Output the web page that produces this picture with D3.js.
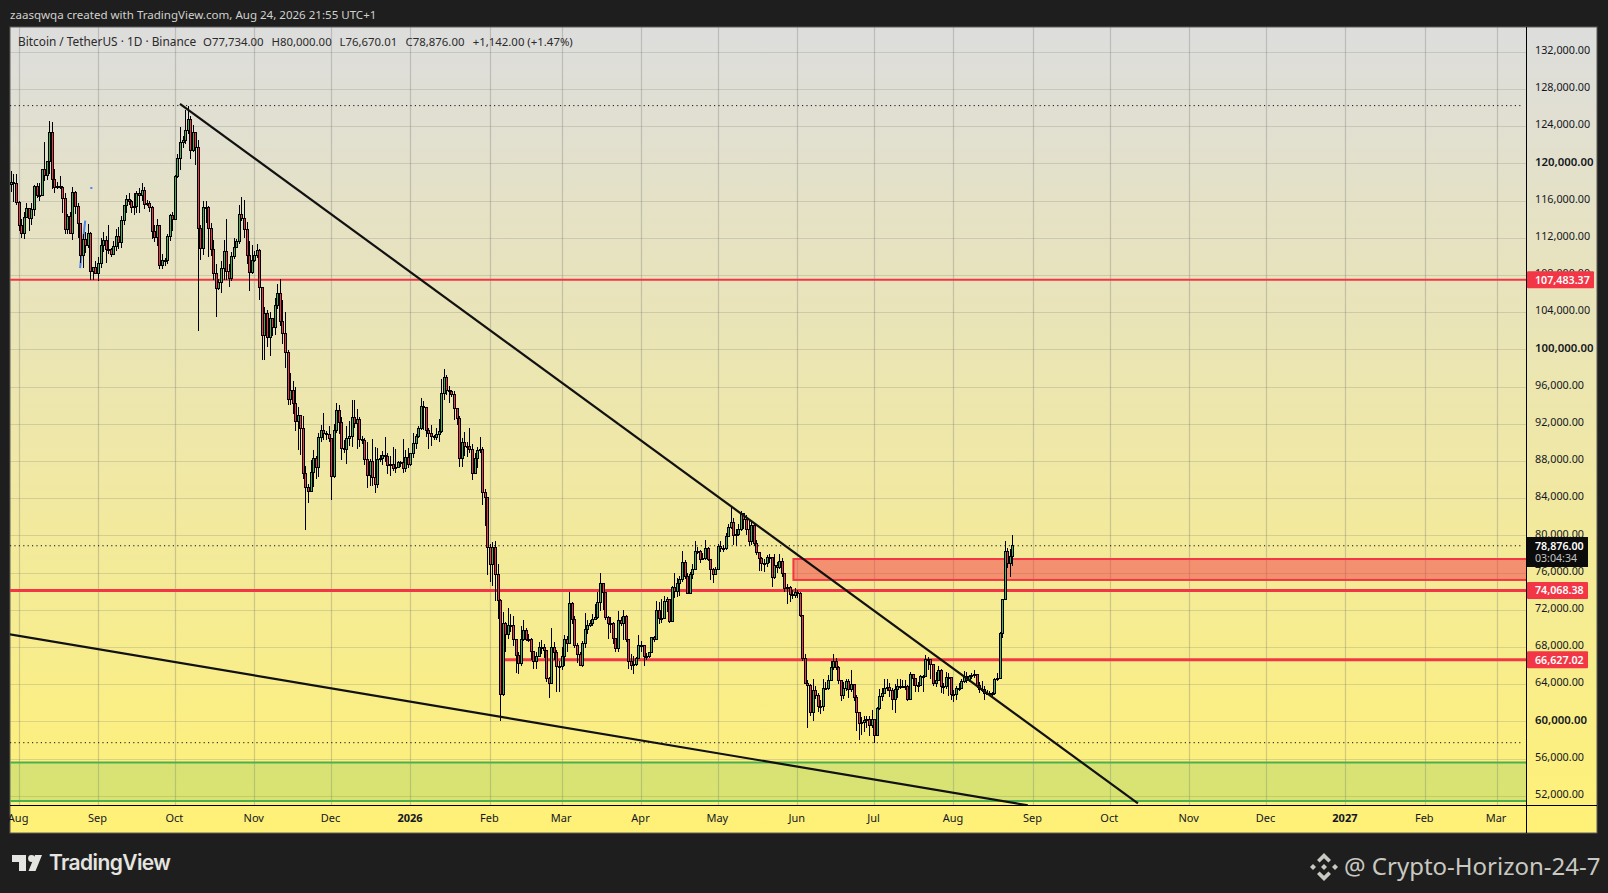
<!DOCTYPE html>
<html>
<head>
<meta charset="utf-8">
<title>BTCUSDT</title>
<script src="https://cdn.jsdelivr.net/npm/d3@7"></script>
<style>
  html, body { margin: 0; padding: 0; background: #1e1e1e; }
  svg { display: block; }
  text { font-family: "Noto Sans", sans-serif; }
</style>
</head>
<body>
<svg id="chart" width="1608" height="893"></svg>
<script>
// Daily candles, in thousands of USDT, first one is 29 Jul 2025
const firstDay = "2025-07-29";
const closes = [
  117.9,117.8,115.8,
  113.3,112.5,114.2,115.1,114.1,115,117.5,116.5,116.5,119.3,118.7,120.2,123.3,118.3,117.4,117.5,117.4,116.2,112.9,114.3,112.5,116.9,115.4,113.5,110.1,111.8,111.2,112.5,108.4,108.8,108.2,
  109.2,111.2,111.7,110.7,110.7,110.2,111.1,112.1,111.5,113.9,115.5,116.1,115.9,115.3,115.4,116.8,116.5,117.1,115.6,115.7,115.3,112.7,112,113.3,109,109.6,109.6,112.1,114.4,114,
  118.6,120.5,122.2,122.4,123.5,124.7,121.4,123.3,121.7,113,110.8,115.2,115.2,113,110.7,108.2,106.5,107.2,108.7,110.5,108.4,107.6,110,111,111.6,114.5,114.1,112.9,110.1,108.3,109.6,
  110.1,110.6,106.6,101.5,103.9,101.3,103.3,102.3,104.7,106,103,101.7,99.7,94.6,95.6,94.2,92.2,92.9,91.5,86.6,85.1,84.7,86.8,88.3,87.3,90.5,91.3,90.9,90.8,90.4,
  86.3,91.3,93.4,92.1,89.3,89.2,90.4,90.6,92.7,92,92.5,90.3,90.2,88.2,86.4,87.9,86.2,85.5,88.1,88.3,88.6,88.5,87.5,87.6,87.2,87.3,87.8,87.8,87.2,88.4,87.6,
  88.8,89.9,90.6,91.5,93.9,93.7,91.3,91,90.6,90.5,90.8,91.2,95.3,97,95.6,95.5,95.1,93.6,92.6,88.3,90,89.5,89.5,89.2,86.6,88.3,89.1,89.2,84.6,84.1,78.7,
  76.9,78.7,75.8,73,62.9,70.54,69.28,70.25,70.3,68.8,67.1,66.2,68.8,69.8,68.8,68.8,67.5,66.4,67,67.9,67.9,67.6,64.6,64.1,67.9,67.4,65.9,65.9,
  66.95,68.8,68.4,72.7,70.9,68.1,67.2,65.95,68.4,69.9,70.25,70.5,71,71.2,72.75,74.8,73.85,71.2,70.55,70.55,68.95,67.85,70.85,70.55,71.3,68.8,66.4,65.95,66.06,66.8,68.2,
  68.1,67,67,67.4,69,68.8,71.9,71.1,71.1,72.9,73.05,70.7,74.4,74,74.8,75.2,77.1,75.55,73.75,75.75,76.35,78.25,78.3,77.4,77.5,78.6,77.35,76.35,75.8,76.35,
  78.8,78.6,78.6,79.85,80.86,81.36,80,80.1,80.65,82.3,81.7,80.6,79.3,81.1,79.1,78.1,77.5,77,77,77.6,77.6,75.5,76.7,76.5,77.2,75.9,74.3,74.4,73.6,73.5,73.8,
  73.7,71.4,66.8,64.1,63.9,61,63.3,62.8,61.6,61.6,63.5,63.5,64.4,65.8,66.4,65.8,64.4,62.8,63.5,64.3,63.4,64,62.6,61,59.8,59.9,60.1,60.2,59.6,60.2,
  58.5,61.4,62.65,63,63.55,63.66,63.3,62.3,63.37,63.73,63.73,63.73,63.73,62.3,64.98,64.62,63.8,63.9,64.8,64.8,66.6,66.6,66.06,64.09,64.34,65.45,63.73,63.73,64.73,64.73,62.83,
  62.83,63.55,63.55,64.27,64.8,64.34,64.8,64.88,64.98,63.9,63.37,63.37,63,63,63,62.94,64.52,64.62,69.4,73.05,78.25,77,77.734,78.876
];
const highs = [
  119.2,118.8,118.9,
  116,114,114.8,115.7,115.2,115.7,117.7,117.9,117.9,119.3,122.3,120.3,124.5,124.4,119.4,118,118.6,117.6,116.8,114.6,114.8,117.4,117,115.7,113.6,112.4,112.6,113.5,112.6,108.9,109.5,
  109.9,112,112.6,112.2,113.4,110.9,111.6,112.9,113.2,114.3,115.5,116.6,116.8,116.1,116.8,117,117.3,117.9,117.5,116.1,116,115.4,113.4,114,113.4,110.3,109.8,112.4,114.5,114.8,
  118.7,121,123.9,122.9,125.7,126.2,125.1,124.1,123.2,122.5,113.4,116,115.9,115.4,113.6,111.8,109.2,107.6,109.5,111.7,114,109.2,110.5,112,111.9,115.5,116.4,116.1,113.7,111.6,111.2,
  110.6,111.3,110.8,106.6,104.5,104.2,104,103.4,105.5,107,107.6,105.3,104,99.9,97.4,96.6,96,93.8,92.9,92.8,87.5,85.5,88.1,89.2,88.5,91,91.9,93.1,91.2,91.8,
  90.4,92,94.2,94,92.7,90.3,91.7,92.3,94.6,94.5,93.6,92.7,90.7,90.5,90,88.2,90.4,89.5,89.4,88.6,89.1,90.6,88.9,88.5,89.5,89.3,88,88,90.4,89.2,89.4,
  88.9,91,90.9,91.8,94.8,94.4,93.7,91.5,91.9,90.8,91.5,92.5,96.8,97.9,97.2,96.1,95.6,95.5,93.4,92.8,90.5,91.1,90,91.5,89.8,88.9,89.5,90.6,89.5,85,84.1,
  79.1,79.3,79.4,76.9,73.1,71.8,70.7,72.2,71.5,71.3,68.9,67.5,70.3,70.9,70,69.4,69,67.6,67.5,68.5,68.7,68.3,67.6,64.8,70,68.5,67.7,66.5,
  68,69.3,69.2,73.9,72.8,71.3,68.4,67.4,68.6,71.6,70.9,70.9,71.5,72.6,73.9,76,74.9,73.9,71.3,71.2,70.7,69,71.9,71.2,72,71.4,68.9,67.2,67,66.9,69.3,
  68.6,68.1,67.3,67.5,69.1,69.2,72.9,72.8,73.2,73.5,73.4,73.2,74.6,75.9,75.4,75.6,78.3,77.3,75.9,76.1,76.9,79.4,78.7,78.4,78.1,79.5,78.7,77.4,76.5,76.6,
  79.1,79.4,79,80.2,81.2,83,81.9,80.7,81.2,82.6,82.4,82.2,81.6,81.6,81.2,79.5,78.2,77.7,77.5,77.9,78,77.7,78,77.1,78,77.6,76,74.8,74.5,74.1,74.3,
  74.1,73.9,71.4,67.2,64.4,64,64.6,63.8,63,62.3,64.5,64.2,65,66.5,67.2,66.8,65.9,64.4,64.2,64.5,64.6,65.5,64,62.8,61,60.5,60.6,60.6,60.6,61.2,
  60.3,61.5,63.5,63.6,64.6,64.6,64.1,63.6,64,64.5,64.5,64.4,64.4,63.9,65.3,65.1,64.7,64.2,65,65,67.1,66.9,66.7,66,65.3,65.9,65.6,64.1,65.3,65.2,64.8,
  63.4,63.8,64.1,64.5,65.4,65.3,65,65.2,65.5,65.1,64.2,64.3,63.8,63.4,63.3,63.2,64.7,65.2,69.6,73.1,79.4,78.6,78.5,80
];
const lows = [
  116.9,115.8,115.5,
  112.7,112,111.9,114.1,112.7,113.4,114.3,116.3,116,116.5,118.1,118.2,118.9,117.2,116.8,117.2,117.2,114.7,112.4,112.4,112.4,111.7,114.6,112,109.3,108.7,110.4,110.9,107.5,107.4,108.1,
  107.3,108.7,110.5,109.3,110.2,109.9,110.1,110.6,110.8,110.9,113.4,114.7,115.5,114.7,114.4,114.7,114.7,116,115.1,115.4,114.8,111.9,111.5,111.1,108.6,108.6,109,109.2,111.6,112.7,
  113.9,118.4,119.3,121.6,122.1,123.1,120.5,121.2,119.8,102,109.6,110.1,113.6,109.9,110,107.5,103.5,106.4,106.1,107.5,107.4,106.7,107.3,109.7,110.9,111.3,113.8,112,109.2,106.3,108.1,
  109.4,109.8,105.3,98.9,98.9,100.3,99.3,101.4,101.5,104.3,102.5,100.6,98,94,94,93,91.2,89.2,88.6,86.1,80.6,83.5,84.7,85.2,86.1,86.3,90,90.2,90.2,90,
  83.8,86.2,91,90.9,88.1,88.9,87.7,89.6,89.5,91.5,89.3,89.5,89.8,87.6,85.1,85.3,85.3,84.5,85.1,87.9,87.6,87.9,86.6,86.4,86.9,86.7,87.2,87.3,86.7,86.8,87.2,
  87.5,88.3,89.3,90.5,91.3,91.3,90.6,89.3,89.6,90.2,90.2,90,91,94.5,95.1,94.2,94.9,92.4,91.9,87.3,87.3,88.5,88.4,88.9,86,86.9,87.2,88.8,83.3,81,75.7,
  75,74.5,72.9,71,60,62.7,67.5,68.9,69.6,68.1,65.2,65.1,65.9,68.6,68.6,68.5,66.6,65.6,65.6,66.9,67.2,66.8,64.2,62.5,64,66.6,63.2,63.1,
  65.5,66,67.5,68.4,70.5,67.9,66.3,65.9,65.8,67.9,69.4,70.1,70.3,70.9,71,71.9,72,70.9,68.9,69.5,68.3,67.5,67.4,70.2,68.7,68.5,65.6,65.5,65.1,65.9,66.7,
  67.5,65.9,66.6,66.8,67.3,68.5,68.7,70.5,70.6,71,71.8,70.6,70.8,73.3,73.4,73.5,75,75.3,73.7,73.8,75.3,76.3,78,77,77.3,77.3,77.2,75.2,74.9,75.7,
  76.3,78.2,78.2,78.4,79.8,80.7,79,78.9,79.9,80.5,80.7,80,78.9,79,78.9,77.9,76.2,76.2,76.1,76.6,77,74.4,75.3,76,76.4,75.5,73.9,72.6,72.8,73.2,73.3,
  73.3,71.2,66.5,64,59.3,60.6,60,62.4,61,60.8,61.1,63.4,63.4,64.3,65.5,65.5,64,62.2,62.4,63.3,62.5,63.2,62.2,59,58,58.5,58.9,59.3,58.4,59.3,
  57.7,59.5,61.2,62.2,62.9,63.3,62.6,61.2,60.9,62.5,63.5,63.6,63.4,62.2,62.4,63.8,63.1,63.1,63.8,63.1,64.8,65.5,64.6,63.8,63.7,64.3,63,62.9,63.5,62.7,62.3,
  62.1,62.3,63.3,63.5,64.1,64.1,64.2,64.6,64.7,63.6,63,63.1,62.3,62.9,62.7,62.7,62.8,64.3,64.5,69,73,76.5,75.5,76.67
];

const priceTicks = [52000,56000,60000,64000,68000,72000,76000,80000,84000,88000,92000,96000,100000,104000,108000,112000,116000,120000,124000,128000,132000];
const majorPrices = [60000,100000,120000];
const timeTicks = ["2025-08-01","2025-09-01","2025-10-01","2025-11-01","2025-12-01","2026-01-01","2026-02-01","2026-03-01","2026-04-01","2026-05-01","2026-06-01","2026-07-01","2026-08-01","2026-09-01","2026-10-01","2026-11-01","2026-12-01","2027-01-01","2027-02-01","2027-03-01"];
const timeLabels = ["Aug","Sep","Oct","Nov","Dec","2026","Feb","Mar","Apr","May","Jun","Jul","Aug","Sep","Oct","Nov","Dec","2027","Feb","Mar"];

// Drawings on the chart
const redLevels = [107483.37, 74068.38, 66627.02];
const redLevelStart = ["2025-07-25", "2025-07-25", "2026-02-06"];
const dottedLevels = [126200, 78876, 57700];
const trendStarts = [["2025-10-03", 126400], ["2025-07-28", 69370]];
const trendEnds = [["2026-10-12", 51170], ["2026-08-30", 50970]];
const resistanceZone = ["2026-05-30T12:00:00Z", 77450, 75200];
const greenZone = [55570, 51430];
const blueStroke = [["2025-08-25", 108740], ["2025-08-27", 113830]];
const blueDot = ["2025-08-29", 117450];

const parseDay = s => new Date(s.length > 10 ? s : s + "T00:00:00Z");

const svgEl = d3.select("#chart");

const pane = { left: 10, top: 27, right: 1526, bottom: 805, outerRight: 1597, outerBottom: 833 };

const x = d3.scaleUtc()
    .domain([parseDay("2025-08-01"), parseDay("2027-03-01")])
    .range([18.6, 1496.5]);

const y = d3.scaleLinear()
    .domain([132000, 52000])
    .range([51.7, 795.7]);

const defs = svgEl.append("defs");
const grad = defs.append("linearGradient")
    .attr("id", "bg").attr("x1", 0).attr("x2", 0).attr("y1", 0).attr("y2", 1);
grad.append("stop").attr("offset", "0%").attr("stop-color", "#dddddd");
grad.append("stop").attr("offset", "100%").attr("stop-color", "#fff176");

defs.append("clipPath").attr("id", "paneClip").append("rect")
    .attr("x", pane.left).attr("y", pane.top)
    .attr("width", pane.right - pane.left).attr("height", pane.bottom - pane.top);

// background with both axes on it
svgEl.append("rect")
    .attr("x", pane.left).attr("y", pane.top)
    .attr("width", pane.outerRight - pane.left).attr("height", pane.outerBottom - pane.top)
    .attr("fill", "url(#bg)")
    .attr("stroke", "#5c5c58").attr("stroke-width", 1);

const plot = svgEl.append("g").attr("clip-path", "url(#paneClip)");

// grid
plot.append("g").selectAll("line")
    .data(priceTicks)
    .join("line")
    .attr("x1", pane.left).attr("x2", pane.right)
    .attr("y1", d => Math.round(y(d)) + 0.5).attr("y2", d => Math.round(y(d)) + 0.5)
    .attr("stroke", "rgba(110,110,110,0.22)").attr("stroke-width", 1);

plot.append("g").selectAll("line")
    .data(timeTicks)
    .join("line")
    .attr("x1", d => Math.round(x(parseDay(d))) + 0.5).attr("x2", d => Math.round(x(parseDay(d))) + 0.5)
    .attr("y1", pane.top).attr("y2", pane.bottom)
    .attr("stroke", "rgba(110,110,110,0.3)").attr("stroke-width", 1.2);

// green zone
plot.append("rect")
    .attr("x", pane.left - 2).attr("width", pane.right - pane.left + 4)
    .attr("y", y(greenZone[0])).attr("height", y(greenZone[1]) - y(greenZone[0]))
    .attr("fill", "rgba(76,175,80,0.2)")
    .attr("stroke", "#4caf50").attr("stroke-width", 2);

// dotted levels
plot.append("g").selectAll("line")
    .data(dottedLevels)
    .join("line")
    .attr("x1", pane.left).attr("x2", pane.right - 3)
    .attr("y1", d => y(d)).attr("y2", d => y(d))
    .attr("stroke", "#111").attr("stroke-width", 1).attr("stroke-dasharray", "1.2,3.2");

// supply zone
plot.append("rect")
    .attr("x", x(parseDay(resistanceZone[0]))).attr("width", pane.right + 4 - x(parseDay(resistanceZone[0])))
    .attr("y", y(resistanceZone[1])).attr("height", y(resistanceZone[2]) - y(resistanceZone[1]))
    .attr("fill", "rgba(242,54,69,0.5)")
    .attr("stroke", "#f23645").attr("stroke-width", 2);

// red horizontal levels
plot.append("g").selectAll("line")
    .data(redLevels)
    .join("line")
    .attr("x1", (d, i) => x(parseDay(redLevelStart[i]))).attr("x2", pane.right)
    .attr("y1", d => y(d)).attr("y2", d => y(d))
    .attr("stroke", "#f23645").attr("stroke-width", (d, i) => i === 0 ? 2 : 3);

// blue scribble
plot.append("line")
    .attr("x1", x(parseDay(blueStroke[0][0]))).attr("y1", y(blueStroke[0][1]))
    .attr("x2", x(parseDay(blueStroke[1][0]))).attr("y2", y(blueStroke[1][1]))
    .attr("stroke", "#4a86f0").attr("stroke-width", 2);
plot.append("rect")
    .attr("x", x(parseDay(blueDot[0]))).attr("y", y(blueDot[1]))
    .attr("width", 2).attr("height", 2).attr("fill", "#4a86f0");

// candles, open is the close before
const startDate = parseDay(firstDay);
const candles = closes.map((c, i) => ({
    date: d3.utcDay.offset(startDate, i),
    open: (i === 0 ? 117.7 : closes[i - 1]) * 1000,
    high: highs[i] * 1000,
    low: lows[i] * 1000,
    close: c * 1000
}));

const candleG = plot.append("g").attr("shape-rendering", "crispEdges");
const pos = d => Math.round(x(d.date)) + 0.5;

candleG.selectAll(".wick")
    .data(candles)
    .join("line")
    .attr("class", "wick")
    .attr("x1", pos).attr("x2", pos)
    .attr("y1", d => y(d.high)).attr("y2", d => y(d.low))
    .attr("stroke", "#000").attr("stroke-width", 1);

candleG.selectAll(".body")
    .data(candles)
    .join("rect")
    .attr("class", "body")
    .attr("x", d => pos(d) - 1)
    .attr("width", 2)
    .attr("y", d => y(Math.max(d.open, d.close)))
    .attr("height", d => Math.max(1, Math.abs(y(d.open) - y(d.close))))
    .attr("fill", d => d.close >= d.open ? "#4caf50" : "#f23645")
    .attr("stroke", "#000").attr("stroke-width", 1);

// trend lines
plot.append("g").selectAll("line")
    .data(trendStarts)
    .join("line")
    .attr("x1", d => x(parseDay(d[0]))).attr("y1", d => y(d[1]))
    .attr("x2", (d, i) => x(parseDay(trendEnds[i][0]))).attr("y2", (d, i) => y(trendEnds[i][1]))
    .attr("stroke", "#111").attr("stroke-width", 2.2);

// axes
const yAxis = d3.axisRight(y)
    .tickValues(priceTicks)
    .tickFormat(d3.format(",.2f"))
    .tickSize(0)
    .tickPadding(9);

const yAxisG = svgEl.append("g")
    .attr("transform", `translate(${pane.right},-1.6)`)
    .call(yAxis);
yAxisG.select(".domain").remove();
yAxisG.selectAll("text")
    .style("font-family", "'Noto Sans', sans-serif")
    .style("font-size", d => majorPrices.includes(d) ? "11.4px" : "10.8px")
    .style("font-weight", d => majorPrices.includes(d) ? 600 : 400)
    .attr("fill", "#131722");

const xAxis = d3.axisBottom(x)
    .tickValues(timeTicks.map(parseDay))
    .tickFormat((d, i) => timeLabels[i])
    .tickSize(0)
    .tickPadding(9);

const xAxisG = svgEl.append("g")
    .attr("transform", `translate(-1,${pane.bottom})`)
    .call(xAxis);
xAxisG.select(".domain").remove();
xAxisG.selectAll("text")
    .style("font-family", "'Noto Sans', sans-serif")
    .style("font-size", "11px")
    .style("font-weight", (d, i) => timeLabels[i].length === 4 ? 700 : 400)
    .attr("fill", "#131722");

// axis border lines
svgEl.append("line")
    .attr("x1", pane.left).attr("x2", pane.outerRight)
    .attr("y1", pane.bottom + 0.5).attr("y2", pane.bottom + 0.5)
    .attr("stroke", "#000");
svgEl.append("line")
    .attr("x1", pane.right + 0.5).attr("x2", pane.right + 0.5)
    .attr("y1", pane.top).attr("y2", pane.outerBottom)
    .attr("stroke", "#000");

// price labels
function priceBadge(val, w, fill) {
    const yy = y(val);
    svgEl.append("rect")
        .attr("x", pane.right + 1).attr("y", yy - 8.5)
        .attr("width", w).attr("height", 17).attr("rx", 1)
        .attr("fill", fill);
    svgEl.append("text")
        .attr("x", pane.right + 9).attr("y", yy + 4)
        .attr("fill", "#fff").attr("font-size", "10.7px").attr("font-weight", 600)
        .text(d3.format(",.2f")(val));
}
priceBadge(redLevels[0], 67, "#f23645");
priceBadge(redLevels[1], 61, "#f23645");
priceBadge(redLevels[2], 61, "#f23645");

const lastClose = closes[closes.length - 1] * 1000;
svgEl.append("rect")
    .attr("x", pane.right + 1).attr("y", 537)
    .attr("width", 61).attr("height", 30)
    .attr("fill", "#0b0b0b");
svgEl.append("text")
    .attr("x", pane.right + 9).attr("y", 549.5)
    .attr("fill", "#fff").attr("font-size", "10.7px").attr("font-weight", 600)
    .text(d3.format(",.2f")(lastClose));
svgEl.append("text")
    .attr("x", pane.right + 9).attr("y", 562)
    .attr("fill", "#c4c4c4").attr("font-size", "10.6px")
    .text("03:04:34");

// header text
svgEl.append("text")
    .attr("x", 10).attr("y", 19)
    .attr("fill", "#d0d0cc").attr("font-size", "11.55px")
    .text("zaasqwqa created with TradingView.com, Aug 24, 2026 21:55 UTC+1");

const legendParts = [
    ["Bitcoin / TetherUS · 1D · Binance", 18, 11.85],
    ["O77,734.00", 203, 11.4],
    ["H80,000.00", 271.5, 11.4],
    ["L76,670.01", 339.5, 11.4],
    ["C78,876.00", 405.5, 11.4],
    ["+1,142.00 (+1.47%)", 472.7, 11.4]
];
svgEl.append("g").selectAll("text")
    .data(legendParts)
    .join("text")
    .attr("x", d => d[1]).attr("y", 46)
    .attr("fill", "#2a2a2a").attr("font-size", d => d[2] + "px")
    .text(d => d[0]);

// TradingView logo, bottom left
const logo = svgEl.append("g").attr("fill", "#e4e4e0");
logo.append("path").attr("d", "M12 855 H26 V871 H19 V862 H12 Z");
logo.append("circle").attr("cx", 31.5).attr("cy", 858.5).attr("r", 3.4);
logo.append("path").attr("d", "M35 855 H42 L35.5 871 H28.5 Z");
svgEl.append("text")
    .attr("x", 49).attr("y", 870)
    .attr("fill", "#e4e4e0").attr("font-size", "21px").attr("font-weight", 600)
    .style("font-family", "Inter, sans-serif").style("letter-spacing", "-0.6px")
    .text("TradingView");

// watermark, bottom right
const mark = svgEl.append("g")
    .attr("transform", "translate(1324,867)")
    .attr("fill", "#c9c9c1");
mark.append("path").attr("d", "M0 -14 L7 -7 L4.4 -4.4 L0 -8.8 L-4.4 -4.4 L-7 -7 Z");
mark.append("path").attr("d", "M0 14 L7 7 L4.4 4.4 L0 8.8 L-4.4 4.4 L-7 7 Z");
mark.append("path").attr("d", "M-14 0 L-11 -3 L-8 0 L-11 3 Z");
mark.append("path").attr("d", "M14 0 L11 -3 L8 0 L11 3 Z");
mark.append("path").attr("d", "M0 -3 L3 0 L0 3 L-3 0 Z");
svgEl.append("text")
    .attr("x", 1344).attr("y", 875)
    .attr("fill", "#c9c9c1").attr("font-size", "24px")
    .style("font-family", "'Noto Sans', sans-serif")
    .text("@ Crypto-Horizon-24-7");
</script>
</body>
</html>
